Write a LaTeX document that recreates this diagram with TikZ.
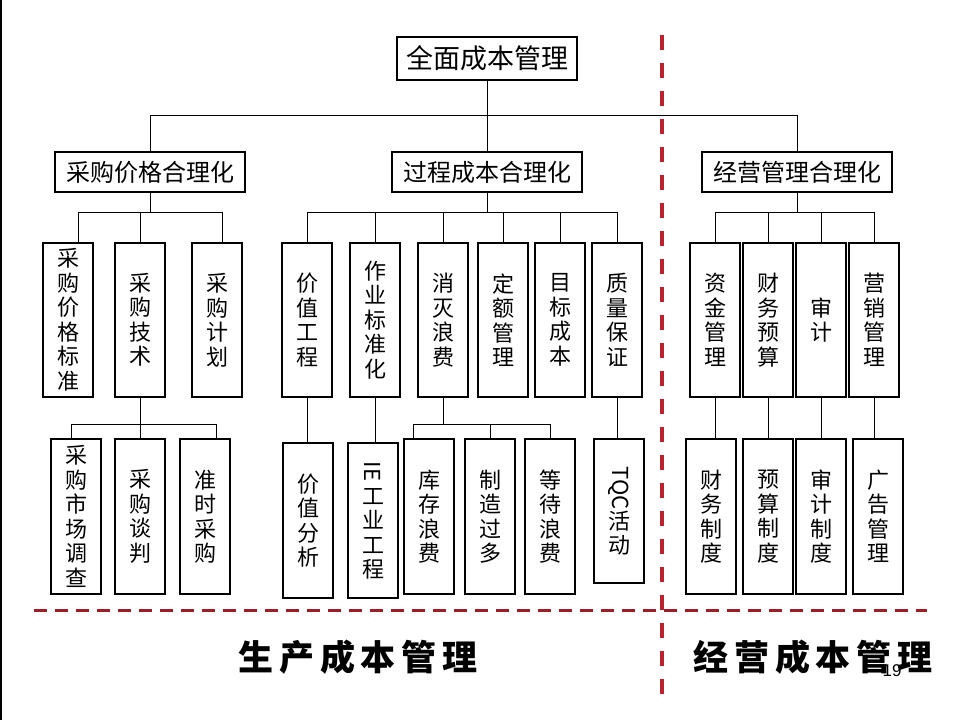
\documentclass[tikz,border=0pt]{standalone}
\usepackage{fontspec}
\usepackage{graphicx}
\setmainfont{Noto Sans CJK SC}
\newfontfamily\zonefont[LetterSpace=17]{Noto Sans CJK SC}
\newfontfamily\pagenofont{Liberation Sans}
\usepackage{tikz}
\usetikzlibrary{calc}
\definecolor{divred}{RGB}{185,35,45}
\tikzset{
  topbox/.style   = {rectangle, draw=black, line width=1.3pt, fill=white,
                     minimum width=180pt, minimum height=43pt, inner sep=0pt,
                     font=\fontsize{27}{30}\selectfont},
  headbox/.style  = {rectangle, draw=black, line width=1.3pt, fill=white,
                     minimum width=190pt, minimum height=40pt, inner sep=0pt,
                     font=\fontsize{24}{28}\selectfont},
  vbox/.style     = {rectangle, draw=black, line width=1.3pt, fill=white,
                     minimum width=50pt, minimum height=#1, inner sep=0pt,
                     align=center, font=\fontsize{22}{24.5}\selectfont},
  vbox/.default   = 154pt,
  conn/.style     = {line width=1pt, black},
  vdiv/.style     = {line width=3.5pt, divred, dash pattern=on 15pt off 13pt},
  hdiv/.style     = {line width=3pt, divred!85!black, dash pattern=on 13pt off 8pt},
  zone/.style     = {font=\zonefont\bfseries\fontsize{35}{40}\selectfont},
}

\begin{document}
\begin{tikzpicture}[x=1pt, y=-1pt]

  \useasboundingbox[fill=white] (0,0) rectangle (960,720);
  \draw[line width=2pt] (1,0) -- (1,720);

  %--- divider lines ---------------------------------------------------------
  \draw[vdiv] (662,35) -- (662,702);
  \draw[hdiv] (34,610) -- (927,610);

  %--- top and second level --------------------------------------------------
  \node[topbox] at (487,58.5) (total) {全面成本管理};

  \node[headbox] at (150,172) (buy)  {采购价格合理化};
  \node[headbox] at (487,172) (proc) {过程成本合理化};
  \node[headbox] at (797,172) (oper) {经营管理合理化};

  %--- third level -----------------------------------------------------------
  \node[vbox] at (68,320)  (buystd)  {采\\购\\价\\格\\标\\准};
  \node[vbox] at (140,320) (buytech) {采\\购\\技\\术};
  \node[vbox] at (217,320) (buyplan) {采\\购\\计\\划};

  \node[vbox] at (307,320) (valeng)  {价\\值\\工\\程};
  \node[vbox] at (375,320) (stdwork) {作\\业\\标\\准\\化};
  \node[vbox] at (443,320) (waste)   {消\\灭\\浪\\费};
  \node[vbox] at (503,320) (quota)   {定\\额\\管\\理};
  \node[vbox] at (560,320) (target)  {目\\标\\成\\本};
  \node[vbox] at (617,320) (quality) {质\\量\\保\\证};

  \node[vbox] at (715,320) (fund)    {资\\金\\管\\理};
  \node[vbox] at (768,320) (budget)  {财\\务\\预\\算};
  \node[vbox] at (821,320) (audit)   {审\\计};
  \node[vbox] at (874,320) (market)  {营\\销\\管\\理};

  %--- fourth level ----------------------------------------------------------
  \node[vbox=155pt] at (76,516.5)  (survey) {采\\购\\市\\场\\调\\查};
  \node[vbox=155pt] at (140,516.5) (talk)   {采\\购\\谈\\判};
  \node[vbox=155pt] at (205,516.5) (jit)    {准\\时\\采\\购};

  \node[vbox=155pt] at (308,520.5) (valana) {价\\值\\分\\析};
  \node[vbox=155pt] at (373,520.5) (ieeng)  {\rotatebox[origin=c]{-90}{IE}\\工\\业\\工\\程};
  \node[vbox=155pt] at (429,516.5) (stock)  {库\\存\\浪\\费};
  \node[vbox=155pt] at (490,516.5) (over)   {制\\造\\过\\多};
  \node[vbox=155pt] at (550,516.5) (wait)   {等\\待\\浪\\费};
  \node[vbox=144pt] at (619,511)   (tqc)    {\rotatebox[origin=c]{-90}{TQC}\\活\\动};

  \node[vbox=155pt] at (711,516.5) (finsys) {财\\务\\制\\度};
  \node[vbox=155pt] at (768,516.5) (budsys) {预\\算\\制\\度};
  \node[vbox=155pt] at (821,516.5) (audsys) {审\\计\\制\\度};
  \node[vbox=155pt] at (878,516.5) (admgmt) {广\\告\\管\\理};

  %--- connectors: top to second level ---------------------------------------
  \coordinate (jtop) at (487,115);
  \draw[conn] (total) -- (jtop);
  \draw[conn] (jtop) -| (buy);
  \draw[conn] (jtop) -- (proc);
  \draw[conn] (jtop) -| (oper);

  %--- connectors: second to third level -------------------------------------
  \coordinate (jbuy) at (150,212);
  \draw[conn] (buy) -- (jbuy);
  \draw[conn] (jbuy) -| ([xshift=10pt]buystd.north);
  \draw[conn] (jbuy) -| (buytech);
  \draw[conn] (jbuy) -| ([xshift=5pt]buyplan.north);

  \coordinate (jproc) at (487,212);
  \draw[conn] (proc) -- (jproc);
  \foreach \n in {valeng, stdwork, waste, quota, target, quality}
    \draw[conn] (jproc) -| (\n);

  \coordinate (joper) at (797,212);
  \draw[conn] (oper) -- (joper);
  \foreach \n in {fund, budget, audit, market}
    \draw[conn] (joper) -| (\n);

  %--- connectors: third to fourth level -------------------------------------
  \coordinate (jtech) at (140,424);
  \draw[conn] (buytech) -- (jtech);
  \draw[conn] (jtech) -| ([xshift=-5pt]survey.north);
  \draw[conn] (jtech) -| (talk);
  \draw[conn] (jtech) -| ([xshift=11pt]jit.north);

  \coordinate (jwaste) at (443,424);
  \draw[conn] (waste) -- (jwaste);
  \draw[conn] (jwaste) -| ([xshift=-16pt]stock.north);
  \draw[conn] (jwaste) -| (over);
  \draw[conn] (jwaste) -| (wait);

  \draw[conn] (valeng.south)  -- (valeng.south |- valana.north);
  \draw[conn] (stdwork.south) -- (stdwork.south |- ieeng.north);
  \draw[conn] (quality.south) -- (quality.south |- tqc.north);
  \draw[conn] (fund.south)    -- (fund.south |- finsys.north);
  \draw[conn] (budget.south)  -- (budget.south |- budsys.north);
  \draw[conn] (audit.south)   -- (audit.south |- audsys.north);
  \draw[conn] (market.south)  -- (market.south |- admgmt.north);

  %--- zone captions ---------------------------------------------------------
  \node[zone] at (358,657) (prodzone) {生产成本管理};
  \node[zone] at (813,657) (operzone) {经营成本管理};
  \node[font=\pagenofont\fontsize{17}{18}\selectfont] at (892,671) (pageno) {19};

\end{tikzpicture}
\end{document}
